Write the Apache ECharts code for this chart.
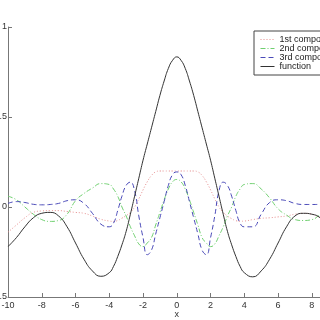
<!DOCTYPE html>
<html>
<head>
<meta charset="utf-8">
<script src="https://cdn.jsdelivr.net/npm/echarts@6/dist/echarts.min.js"></script>
<style>html,body{margin:0;padding:0;background:#fff}#c{width:320px;height:320px}</style>
</head>
<body>
<div id="c"></div>
<script>
var xs = [-10,-9.5,-9,-8.5,-8,-7.5,-7,-6.5,-6,-5.5,-5,-4.5,
  -4,-3.75,-3.5,-3.25,-3,-2.75,-2.5,-2.25,-2,-1.75,-1.5,-1.25,-1,-0.75,-0.5,-0.25,
  0,0.25,0.5,0.75,1,1.25,1.5,1.75,2,2.25,2.5,2.75,3,3.25,3.5,3.75,4,
  4.5,5,5.5,6,6.5,7,7.5,8,8.5,9,9.5,10];
var comp1 = [-0.14,-0.1,-0.06,-0.03,-0.022,-0.02,-0.02,-0.025,-0.03,-0.035,-0.05,-0.068,
  -0.078,-0.08,-0.075,-0.062,-0.048,-0.03,0.0,0.045,0.095,0.14,0.175,0.195,0.2,0.2,0.2,0.2,
  0.2,0.2,0.2,0.2,0.2,0.195,0.175,0.14,0.095,0.045,0.0,-0.03,-0.05,-0.065,-0.076,-0.079,-0.078,
  -0.07,-0.063,-0.06,-0.055,-0.05,-0.04,-0.035,-0.04,-0.06,-0.08,-0.1,-0.14];
var comp2 = [0.06,0.04,0.0,-0.04,-0.07,-0.08,-0.075,-0.04,0.035,0.075,0.105,0.13,
  0.125,0.1,0.06,0.0,-0.05,-0.11,-0.16,-0.205,-0.22,-0.2,-0.17,-0.1,-0.03,0.04,0.1,0.14,
  0.153,0.14,0.1,0.04,-0.03,-0.1,-0.17,-0.2,-0.22,-0.205,-0.16,-0.11,-0.05,0.0,0.06,0.1,0.125,
  0.13,0.1,0.05,-0.01,-0.045,-0.07,-0.075,-0.07,-0.04,0.0,0.04,0.06];
var comp3 = [0.02,0.03,0.025,0.015,0.012,0.014,0.02,0.035,0.04,0.02,-0.035,-0.095,
  -0.11,-0.09,-0.02,0.06,0.12,0.138,0.09,-0.05,-0.17,-0.265,-0.24,-0.15,-0.06,0.03,0.12,0.18,
  0.195,0.18,0.12,0.03,-0.06,-0.15,-0.24,-0.265,-0.17,-0.05,0.09,0.138,0.12,0.06,-0.02,-0.09,-0.11,
  -0.11,-0.04,0.025,0.04,0.035,0.02,0.014,0.014,0.015,0.025,0.03,0.02];
var func = [-0.22,-0.17,-0.11,-0.06,-0.035,-0.03,-0.05,-0.11,-0.2,-0.29,-0.355,-0.385,
  -0.365,-0.33,-0.275,-0.21,-0.135,-0.04,0.06,0.16,0.26,0.35,0.44,0.53,0.62,0.7,0.77,0.815,
  0.834,0.815,0.77,0.7,0.62,0.53,0.44,0.35,0.26,0.16,0.06,-0.04,-0.135,-0.21,-0.275,-0.33,-0.365,
  -0.388,-0.355,-0.29,-0.2,-0.11,-0.05,-0.035,-0.04,-0.06,-0.11,-0.17,-0.22];
var names = ['1st component','2nd component','3rd component','function'];
var xTicks = [-10,-8,-6,-4,-2,0,2,4,6,8,10];
var yTicks = [-0.5,0,0.5,1];

function pairs(ys){ return xs.map(function(x,i){ return [x, ys[i]]; }); }

var chart = echarts.init(document.getElementById('c'), null, {renderer:'canvas'});
var font = 'Liberation Sans, Arial, sans-serif';
var styles = [
  {color:'#e58f8f', type:[1,2]},
  {color:'#6fcf6f', type:[5,2,1,2]},
  {color:'#4a4ab8', type:[5,3]},
  {color:'#333333', type:'solid'}
];
var datas = [comp1, comp2, comp3, func];
chart.setOption({
  animation:false,
  grid:{left:8, top:27, right:-25.6, bottom:23, containLabel:false, outerBoundsMode:'none'},
  xAxis:{type:'value', min:-10, max:10, interval:2, name:'x', nameLocation:'middle', nameGap:13,
    nameMoveOverlap:false,
    nameTextStyle:{fontSize:9, color:'#333', fontFamily:font, verticalAlign:'top'},
    axisLine:{onZero:false, lineStyle:{color:'#777', width:1}},
    axisTick:{inside:true, length:4, lineStyle:{color:'#777'}},
    axisLabel:{fontSize:9, color:'#333', fontFamily:font, margin:4, hideOverlap:false,
      formatter:function(v){ return xTicks.indexOf(v)>=0 ? String(v) : ''; }},
    splitLine:{show:false}},
  yAxis:{type:'value', min:-0.5, max:1, interval:0.5,
    axisLine:{show:true, onZero:false, lineStyle:{color:'#777', width:1}},
    axisTick:{show:true, inside:true, length:4, lineStyle:{color:'#777'}},
    axisLabel:{fontSize:9, color:'#333', fontFamily:font, margin:1, hideOverlap:false,
      formatter:function(v){ return yTicks.indexOf(v)>=0 ? String(v) : ''; }},
    splitLine:{show:false}},
  legend:{orient:'vertical', left:254, top:31, itemWidth:14, itemHeight:8, itemGap:0,
    padding:[4,6,4,6], borderColor:'#444', borderWidth:1, backgroundColor:'#fff',
    itemStyle:{opacity:0}, lineStyle:{width:1},
    textStyle:{fontSize:9, color:'#222', fontFamily:font, lineHeight:8.5},
    data:names},
  series: datas.map(function(d,i){
    return {name:names[i], type:'line', data:pairs(d), smooth:true, symbol:'none', z:i,
      lineStyle:{color:styles[i].color, width:1, type:styles[i].type},
      itemStyle:{color:styles[i].color}};
  })
});
</script>
</body>
</html>
